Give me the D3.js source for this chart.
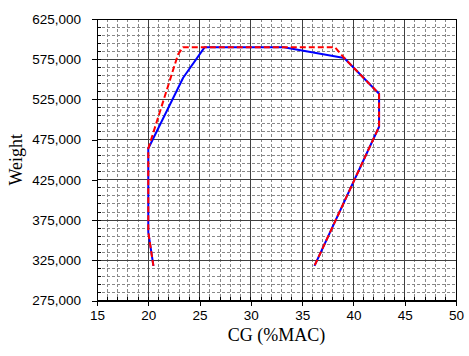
<!DOCTYPE html>
<html>
<head>
<meta charset="utf-8">
<script src="https://cdn.jsdelivr.net/npm/d3@7"></script>
<style>
  html, body { margin: 0; padding: 0; background: #fff; }
  svg { display: block; }
</style>
</head>
<body>
<svg id="chart" width="469" height="356"></svg>
<script>
// ---- data ----
const blueCG     = [20.5, 20.0, 20.0, 23.4, 25.5, 33.2, 39.1, 42.5, 42.5, 36.2];
const blueWeight = [318000, 360000, 464000, 552000, 590000, 590000, 576500, 532000, 491000, 318000];
const redCG      = [20.5, 20.0, 20.0, 22.9, 23.4, 38.2, 39.1, 42.5, 42.5, 36.2];
const redWeight  = [318000, 360000, 464000, 581000, 590000, 590000, 576500, 532000, 491000, 318000];
const xTicks = [15, 20, 25, 30, 35, 40, 45, 50];
const yTicks = [275000, 325000, 375000, 425000, 475000, 525000, 575000, 625000];
const xTitle = "CG (%MAC)";
const yTitle = "Weight";

// ---- layout ----
const mL = 97, mR = 456, mT = 19, mB = 300.5;
const svg = d3.select("#chart");
const x = d3.scaleLinear().domain([15, 50]).range([mL, mR]);
const y = d3.scaleLinear().domain([275000, 625000]).range([mB, mT]);

const xMinor = d3.range(15, 50.01, 1);
const yMinor = d3.range(275000, 625001, 10000);

const g = svg.append("g");
// minor grid
g.selectAll("line.vminor").data(xMinor).enter().append("line")
  .attr("x1", d => x(d)).attr("x2", d => x(d)).attr("y1", mT).attr("y2", mB)
  .attr("stroke", "#888").attr("stroke-width", 1).attr("stroke-dasharray", "3,2")
  .attr("shape-rendering", "crispEdges");
g.selectAll("line.hminor").data(yMinor).enter().append("line")
  .attr("x1", mL).attr("x2", mR).attr("y1", d => y(d)).attr("y2", d => y(d))
  .attr("stroke", "#888").attr("stroke-width", 1).attr("stroke-dasharray", "3,2")
  .attr("shape-rendering", "crispEdges");
// major grid
g.selectAll("line.vmajor").data(xTicks).enter().append("line")
  .attr("x1", d => x(d)).attr("x2", d => x(d)).attr("y1", mT).attr("y2", mB)
  .attr("stroke", "#404040").attr("stroke-width", 1).attr("shape-rendering", "crispEdges");
g.selectAll("line.hmajor").data(yTicks).enter().append("line")
  .attr("x1", mL).attr("x2", mR).attr("y1", d => y(d)).attr("y2", d => y(d))
  .attr("stroke", "#404040").attr("stroke-width", 1).attr("shape-rendering", "crispEdges");
// border
g.append("rect").attr("x", mL).attr("y", mT).attr("width", mR - mL).attr("height", mB - mT)
  .attr("fill", "none").attr("stroke", "#000").attr("stroke-width", 1).attr("shape-rendering", "crispEdges");

// minor inner ticks
g.selectAll("line.xmt").data(xMinor).enter().append("line")
  .attr("x1", d => x(d)).attr("x2", d => x(d)).attr("y1", mB).attr("y2", mB - 4)
  .attr("stroke", "#000").attr("shape-rendering", "crispEdges");
g.selectAll("line.ymt").data(yMinor).enter().append("line")
  .attr("x1", mL).attr("x2", mL + 4).attr("y1", d => y(d)).attr("y2", d => y(d))
  .attr("stroke", "#000").attr("shape-rendering", "crispEdges");

// axes
const xAxis = d3.axisBottom(x).tickValues(xTicks).tickSize(5).tickSizeOuter(0).tickPadding(5);
const yAxis = d3.axisLeft(y).tickValues(yTicks).tickSize(5).tickSizeOuter(0).tickPadding(10)
  .tickFormat(d3.format(","));
const gx = svg.append("g").attr("transform", `translate(0,${mB})`).call(xAxis);
const gy = svg.append("g").attr("transform", `translate(${mL},0)`).call(yAxis);
[gx, gy].forEach(a => {
  a.select(".domain").attr("stroke", "#000").attr("shape-rendering", "crispEdges");
  a.selectAll(".tick line").attr("stroke", "#000").attr("shape-rendering", "crispEdges");
  a.selectAll("text").attr("font-family", "Liberation Sans, Arial, sans-serif")
    .attr("font-size", "13.5px").attr("fill", "#000");
});
gy.selectAll(".tick text").attr("x", -16);

// lines
const line = d3.line().x(d => x(d[0])).y(d => y(d[1]));
svg.append("path").datum(blueCG.map((c, i) => [c, blueWeight[i]]))
  .attr("d", line).attr("fill", "none").attr("stroke", "#0000ff").attr("stroke-width", 2)
  .attr("stroke-linejoin", "round");
svg.append("path").datum(redCG.map((c, i) => [c, redWeight[i]]))
  .attr("d", line).attr("fill", "none").attr("stroke", "#ff0000").attr("stroke-width", 2)
  .attr("stroke-dasharray", "6,3");

// titles
svg.append("text").attr("x", (mL + mR) / 2).attr("y", 341)
  .attr("text-anchor", "middle").attr("font-family", "Liberation Serif, Times New Roman, serif")
  .attr("font-size", "18px").text(xTitle);
svg.append("text").attr("transform", `translate(22,${(mT + mB) / 2}) rotate(-90)`)
  .attr("text-anchor", "middle").attr("font-family", "Liberation Serif, Times New Roman, serif")
  .attr("font-size", "18px").text(yTitle);
</script>
</body>
</html>
